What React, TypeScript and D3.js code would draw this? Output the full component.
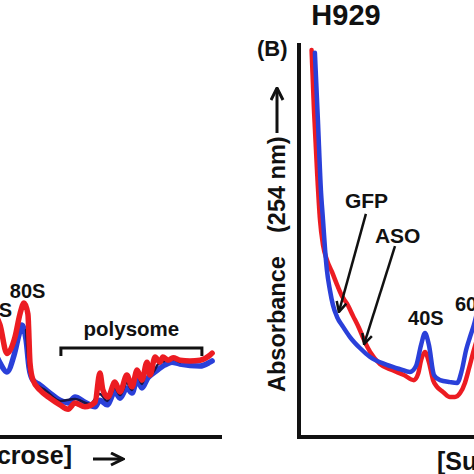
import { useEffect, useRef } from "react";
import * as d3 from "d3";

// gradient position (fraction units) and A254 (arbitrary units, 0-100)
// panel A, right-hand part of the profile
const aRedX = [24, 26, 28.3, 31, 32.7, 34, 35.3, 36, 37, 39.3, 42.7, 46, 48.7, 51, 54.3, 57.7, 59.3, 60.3, 62, 64.3, 66, 68.3, 70, 71.7, 73.3, 75, 76, 77.7, 79.3, 80.3, 82, 83.7, 86, 89.3, 92.7, 96, 96.7];
const aRedY = [31.9, 28.6, 21.3, 25.5, 31.5, 34.2, 31.4, 18.9, 14.5, 12.0, 9.9, 8.2, 7.1, 8.7, 7.7, 8.9, 16.3, 12.0, 10.2, 14.0, 11.5, 15.8, 12.8, 17.1, 14.5, 19.1, 15.8, 20.4, 19.1, 20.4, 19.6, 20.2, 19.6, 19.4, 19.6, 20.9, 21.4];
const aBlueX = [24, 26, 28.3, 30.7, 32.3, 33.3, 34.7, 35.7, 37, 39.3, 42.7, 46, 48.7, 51, 54.3, 57.7, 59.3, 61.7, 64.3, 66, 68.3, 70, 71.7, 73.3, 75.3, 77.7, 81, 83.3, 86, 92.7, 96, 96.7];
const aBlueY = [22.2, 18.9, 16.6, 20.9, 26.0, 28.6, 24.7, 17.6, 14.5, 13.3, 11.2, 9.4, 8.7, 10.2, 8.9, 7.7, 9.4, 8.2, 11.5, 9.9, 12.5, 11.2, 14.5, 12.5, 15.1, 16.6, 18.4, 19.1, 18.6, 18.1, 19.1, 19.4];
const aDarkX = [34.7, 35.7, 37.3, 41, 46, 51, 56, 59.3, 61.7, 64.3, 66, 68.3, 70, 71.7, 73.3, 75, 76.7, 78.7, 81, 83.3, 86];
const aDarkY = [27.3, 17.6, 14.0, 12.0, 9.2, 9.7, 8.4, 11.0, 9.2, 12.5, 10.7, 13.8, 12.0, 16.1, 13.5, 17.1, 16.3, 18.6, 19.4, 19.9, 19.1];

// panel B (H929), GFP vs ASO
const bRedX = [4.2, 5, 6, 7, 8, 9.3, 11, 12.7, 14.3, 16, 18, 20, 21.7, 23.7, 27, 31, 35, 38.3, 39.7, 40.7, 42, 43.3, 44.7, 46, 48, 50.3, 52, 53.7, 55.3, 56.7, 58.3, 60.3];
const bRedY = [98.7, 83.4, 68.1, 55.4, 49.0, 45.2, 42.1, 38.8, 36.0, 34.0, 30.9, 27.8, 24.7, 21.7, 18.6, 17.1, 15.8, 14.5, 16.1, 19.6, 21.7, 19.1, 14.5, 12.8, 11.5, 10.2, 10.2, 11.2, 13.8, 17.6, 22.2, 27.3];
const bBlueX = [5.3, 6.3, 7.3, 8, 8.7, 9.3, 10.3, 11.3, 12.7, 14.7, 17, 20.3, 23.7, 29.3, 33.7, 37, 39, 40.7, 42, 43.3, 45, 47, 50.3, 52.7, 54.3, 55.7, 57, 58.3, 60.3];
const bBlueY = [98.0, 80.9, 63.0, 55.4, 47.7, 42.6, 37.5, 33.7, 30.6, 28.1, 25.5, 22.7, 20.4, 18.4, 17.3, 16.6, 18.1, 23.5, 26.5, 23.5, 15.8, 14.5, 14.0, 13.8, 17.1, 22.2, 25.5, 28.6, 35.0];

// peak labels [panel, text, x, y, anchor]
const peakLabels: [string, string, number, number, string][] = [
  ["A", "60S", 30, 30.6, "end"],
  ["A", "80S", 35.2, 35.5, "middle"],
  ["B", "40S", 42.3, 28.6, "middle"],
  ["B", "60S", 52, 32.1, "start"],
];

// sample callouts: text position, arrow start, arrow tip
const callouts: [string, number, number, number, number, number, number][] = [
  ["GFP", 15.3, 58.4, 22.3, 56.9, 13.3, 31.9],
  ["ASO", 25.3, 49.5, 32, 48.7, 21.7, 23.7],
];

const RED = "#ec1c24";
const BLUE = "#2b3fd9";
const DARK = "#15154a";
const FONT = "'Liberation Sans', Arial, sans-serif";

export default function App() {
  const ref = useRef<SVGSVGElement>(null);

  useEffect(() => {
    if (!ref.current) return;
    const svg = d3.select(ref.current);
    svg.selectAll("*").remove();

    const W = 474;
    const H = 474;
    svg.attr("viewBox", `0 0 ${W} ${H}`).attr("width", W).attr("height", H);

    const y = d3.scaleLinear().domain([0, 100]).range([437, 45]);
    const xA = d3.scaleLinear().domain([0, 100]).range([-78, 222]);
    const xB = d3.scaleLinear().domain([0, 100]).range([299, 599]);

    const defs = svg.append("defs");
    defs
      .append("filter")
      .attr("id", "soft")
      .append("feGaussianBlur")
      .attr("stdDeviation", 0.6);
    const marker = defs
      .append("marker")
      .attr("id", "head")
      .attr("viewBox", "0 0 10 10")
      .attr("refX", 9)
      .attr("refY", 5)
      .attr("markerWidth", 5)
      .attr("markerHeight", 5)
      .attr("markerUnits", "strokeWidth")
      .attr("orient", "auto");
    marker
      .append("path")
      .attr("d", "M1,1 L9,5 L1,9")
      .attr("fill", "none")
      .attr("stroke", "#111")
      .attr("stroke-width", 2);

    const trace = (
      x: d3.ScaleLinear<number, number>,
      xs: number[],
      ys: number[],
      color: string,
      width: number
    ) => {
      const pts: [number, number][] = xs.map((v, i) => [v, ys[i]]);
      const line = d3
        .line<[number, number]>()
        .x((d) => x(d[0]))
        .y((d) => y(d[1]))
        .curve(d3.curveMonotoneX);
      svg
        .append("path")
        .datum(pts)
        .attr("fill", "none")
        .attr("stroke", color)
        .attr("stroke-width", width)
        .attr("stroke-linejoin", "round")
        .attr("stroke-linecap", "round")
        .attr("filter", "url(#soft)")
        .attr("d", line);
    };

    const label = (
      x: number,
      yy: number,
      txt: string,
      size: number,
      anchor = "middle"
    ) =>
      svg
        .append("text")
        .attr("x", x)
        .attr("y", yy)
        .attr("text-anchor", anchor)
        .attr("font-family", FONT)
        .attr("font-weight", "bold")
        .attr("font-size", size)
        .attr("fill", "#111")
        .text(txt);

    // ---- panel A ----
    svg
      .append("line")
      .attr("x1", xA(-30))
      .attr("x2", xA(100))
      .attr("y1", y(0))
      .attr("y2", y(0))
      .attr("stroke", "#111")
      .attr("stroke-width", 4);

    trace(xA, aBlueX, aBlueY, BLUE, 5.5);
    trace(xA, aDarkX, aDarkY, DARK, 2.5);
    trace(xA, aRedX, aRedY, RED, 5.5);

    // polysome bracket
    const bx0 = xA(46.3);
    const bx1 = xA(93.3);
    const by = 348;
    svg
      .append("path")
      .attr("d", `M${bx0},${by + 8}V${by}H${bx1}V${by + 8}`)
      .attr("fill", "none")
      .attr("stroke", "#111")
      .attr("stroke-width", 3);
    label((bx0 + bx1) / 2, 336, "polysome", 20.5);

    label(72, 464, "[Sucrose]", 25, "end");
    svg
      .append("line")
      .attr("x1", 93)
      .attr("x2", 123)
      .attr("y1", 459)
      .attr("y2", 459)
      .attr("stroke", "#111")
      .attr("stroke-width", 3)
      .attr("marker-end", "url(#head)");

    // ---- panel B ----
    label(346, 25, "H929", 29);
    label(257, 56, "(B)", 22, "start");

    svg
      .append("path")
      .attr("d", `M${xB(0)},${y(100) - 2}V${y(0)}H${W + 5}`)
      .attr("fill", "none")
      .attr("stroke", "#111")
      .attr("stroke-width", 4);

    trace(xB, bRedX, bRedY, RED, 4.5);
    trace(xB, bBlueX, bBlueY, BLUE, 4.5);

    // rotated y-axis title
    const yt = svg
      .append("g")
      .attr("transform", "translate(285,0) rotate(-90)");
    yt.append("text")
      .attr("x", -392)
      .attr("y", 0)
      .attr("font-family", FONT)
      .attr("font-weight", "bold")
      .attr("font-size", 23.5)
      .attr("fill", "#111")
      .text("Absorbance");
    yt.append("text")
      .attr("x", -233)
      .attr("y", 0)
      .attr("font-family", FONT)
      .attr("font-weight", "bold")
      .attr("font-size", 23.5)
      .attr("fill", "#111")
      .text("(254 nm)");
    yt.append("line")
      .attr("x1", -133)
      .attr("x2", -88)
      .attr("y1", -8)
      .attr("y2", -8)
      .attr("stroke", "#111")
      .attr("stroke-width", 3)
      .attr("marker-end", "url(#head)");

    label(437, 470, "[Sucrose]", 25, "start");

    // peak labels
    peakLabels.forEach(([panel, txt, px, py, anchor]) => {
      const x = panel === "A" ? xA : xB;
      label(x(px), y(py), txt, 20, anchor);
    });

    // GFP / ASO callouts
    callouts.forEach(([txt, tx, ty, sx, sy, ex, ey]) => {
      label(xB(tx), y(ty), txt, 21, "start");
      svg
        .append("line")
        .attr("x1", xB(sx))
        .attr("y1", y(sy))
        .attr("x2", xB(ex))
        .attr("y2", y(ey))
        .attr("stroke", "#111")
        .attr("stroke-width", 2.5)
        .attr("marker-end", "url(#head)");
    });
  }, []);

  return (
    <div style={{ position: "fixed", left: 0, top: 0, width: 474, height: 474, background: "#fff" }}>
      <svg ref={ref} style={{ display: "block" }} />
    </div>
  );
}
